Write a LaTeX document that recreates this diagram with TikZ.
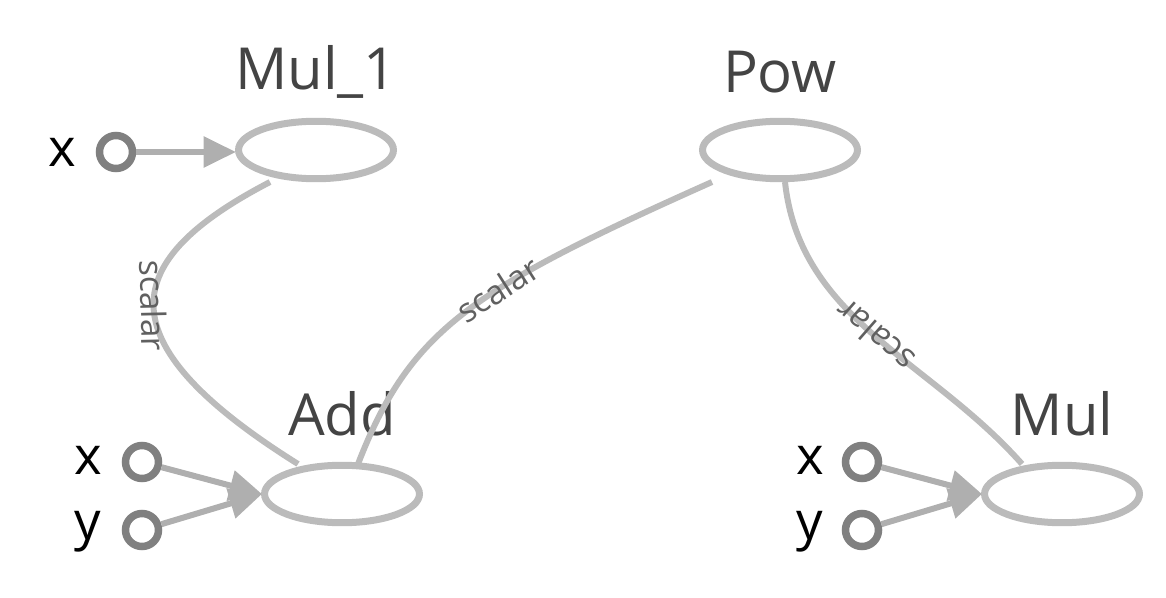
\documentclass[tikz,border=0pt]{standalone}
\usepackage{fontspec}
\setmainfont{Open Sans}
\usetikzlibrary{arrows.meta,shapes.geometric}
\definecolor{eg}{HTML}{BBBBBB}
\definecolor{ig}{HTML}{808080}
\definecolor{tg}{HTML}{444444}
\begin{document}
\begin{tikzpicture}[x=0.02cm,y=-0.02cm,
  op/.style={draw=eg,line width=0.14cm,ellipse,minimum width=3.1cm,minimum height=1.15cm,inner sep=0},
  inp/.style={draw=ig,line width=0.15cm,circle,minimum size=0.66cm,inner sep=0},
  lab/.style={text=tg,font=\fontsize{33}{36}\selectfont},
  ilab/.style={text=black,font=\fontsize{30}{32}\selectfont},
  edge/.style={draw=eg,line width=0.12cm},
  iedge/.style={draw=eg!80!gray,line width=0.12cm,-{Triangle[length=0.65cm,width=0.6cm]}},
  sl/.style={text=tg!85,font=\fontsize{19}{20}\selectfont,sloped,inner sep=1pt}]
\useasboundingbox (0,0) rectangle (1166,598);
\node[op] (m1) at (316,150) {};
\node[op] (pow) at (780,150) {};
\node[op] (add) at (342,494) {};
\node[op] (mul) at (1062,494) {};
\node[lab] (tm1) at (316,72) {Mul\_1};
\node[lab] (tpow) at (780,72) {Pow};
\node[lab] (tadd) at (342,414) {Add};
\node[lab] (tmul) at (1062,414) {Mul};
\node[inp] (c1) at (116,152) {};
\node[ilab] (l1) at (62,152) {x};
\node[inp] (c2) at (142,462) {};
\node[ilab] (l2) at (88,460) {x};
\node[inp] (c3) at (142,530) {};
\node[ilab] (l3) at (88,532) {y};
\node[inp] (c4) at (862,462) {};
\node[ilab] (l4) at (810,460) {x};
\node[inp] (c5) at (862,530) {};
\node[ilab] (l5) at (810,532) {y};
\coordinate (a1) at (236,152);
\coordinate (a2) at (262,494);
\coordinate (a3) at (982,494);
\draw[iedge] (c1) -- (a1);
\draw[iedge] (c2) -- (a2);
\draw[iedge] (c3) -- (a2);
\draw[iedge] (c4) -- (a3);
\draw[iedge] (c5) -- (a3);
\coordinate (p1) at (270,182);
\coordinate (p2) at (298,464);
\draw[edge] (p1) .. controls (120,260) and (100,340) .. (p2) node[sl,pos=0.5] {scalar};
\coordinate (p3) at (712,182);
\coordinate (p4) at (358,464);
\draw[edge] (p4) .. controls (410,330) and (470,290) .. (p3) node[sl,pos=0.6] {scalar};
\coordinate (p5) at (785,182);
\coordinate (p6) at (1022,464);
\draw[edge] (p6) .. controls (930,360) and (800,320) .. (p5) node[sl,pos=0.5,allow upside down] {scalar};
\end{tikzpicture}
\end{document}
